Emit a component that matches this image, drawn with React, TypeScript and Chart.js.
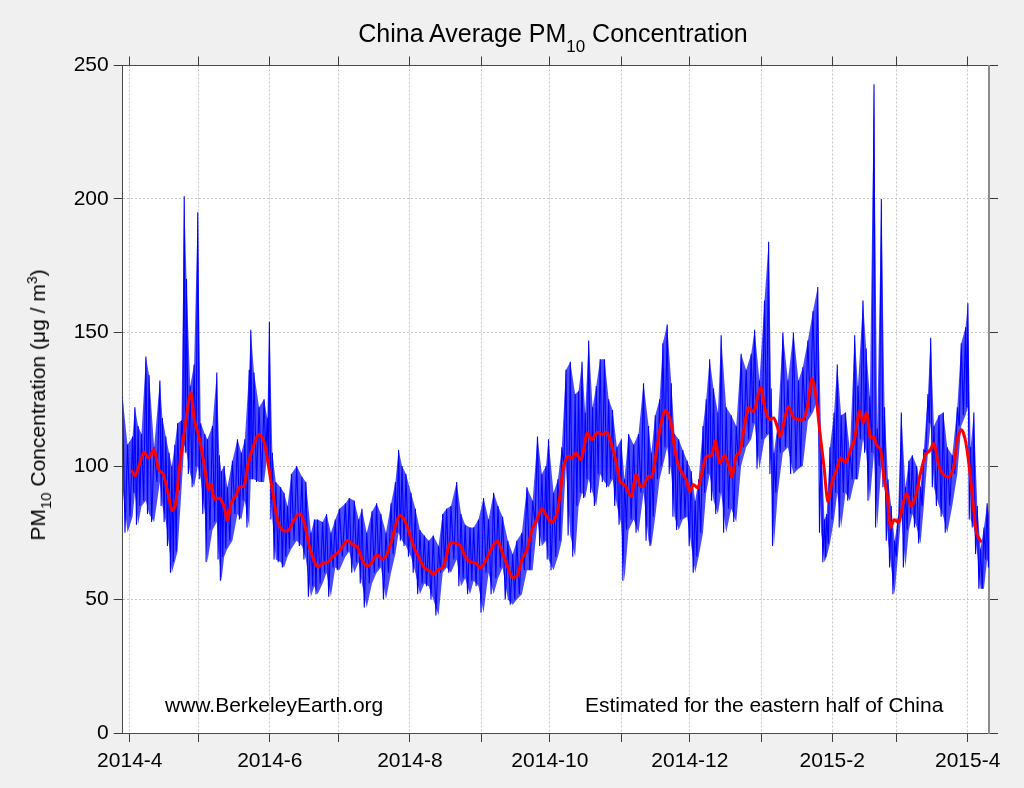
import { useEffect, useRef } from 'react';
import { Chart, registerables } from 'chart.js';

Chart.register(...registerables);

const FONT = '"Liberation Sans", Arial, Helvetica, sans-serif';

// x axis: days since 2014-04-01
const xMin = -3.1;
const xMax = 374.3;
const monthTicks = [0, 30, 61, 91, 122, 153, 183, 214, 244, 275, 306, 334, 365];
const monthLabels = ['2014-4', '', '2014-6', '', '2014-8', '', '2014-10', '', '2014-12', '', '2015-2', '', '2015-4'];
const yTicks = [0, 50, 100, 150, 200, 250];

// smoothed (red) series: [day, value]
const smoothAprJun = [
  [0.9, 98.0], [2.4, 96.4], [3.9, 99.9], [6.2, 105.1], [8.2, 103], [10.5, 106.1], [12.6, 98.6], [14.5, 97],
  [16.6, 89.9], [18.4, 83.4], [19.8, 85.1], [21.7, 99.9], [23.9, 113.6], [26.5, 127.4], [28.2, 116.8],
  [30.1, 111.1], [32.3, 101.1], [34.3, 91.1], [35.5, 93], [36.9, 87.6], [39.1, 88], [41.0, 84.9], [42.5, 79.6],
  [44.2, 86.1], [46.4, 89.3], [47.8, 92.1], [49.7, 92.4], [51.5, 100.5], [53.6, 106.8], [56.1, 111.8],
  [58.4, 109.3], [60.2, 101.1], [62.3, 89.9], [64.5, 79.3], [66.7, 75.9], [69.2, 75.9], [71.5, 79.9],
];
const smoothJunAug = [
  [74.1, 82.1], [76.0, 78.6], [78.2, 69.9], [80.4, 64.3], [81.8, 62.2], [84.0, 63.6], [86.2, 63.9], [88.4, 66.1],
  [90.5, 67.4], [92.7, 69.9], [94.9, 72.2], [97.1, 70.5], [99.0, 69.9], [101.2, 64.9], [102.9, 62.6], [104.6, 63],
  [106.1, 64.9], [107.7, 66.8], [109.9, 65.1], [111.9, 66.8], [114.2, 72.4], [116.0, 78.6], [117.7, 81.4],
  [119.6, 79.9], [121.8, 74.9], [123.9, 69.3], [126.1, 65.5], [128.3, 61.8], [130.5, 60.8], [132.2, 59.3],
  [134.1, 61.1], [136.3, 62], [137.7, 65.5], [139.5, 71.1], [141.8, 71.1], [144.0, 70.2], [145.7, 66.8], [147.9, 64.3],
];
const smoothSepNov = [
  [150.8, 63.6], [152.7, 61.8], [154.9, 64.3], [156.6, 67.4], [158.5, 70.5], [160.4, 71.8], [162.1, 68], [164.3, 63],
  [166.5, 58.4], [168.7, 58.9], [170.8, 64.9], [173.0, 68.6], [175.2, 76.1], [177.3, 79.9], [179.5, 83.9],
  [181.7, 81.1], [183.9, 78.9], [186.1, 82.4], [187.5, 89.9], [189.0, 99.9], [190.9, 103.6], [192.6, 103],
  [194.4, 104.9], [196.3, 102.4], [197.7, 106.1], [199.2, 112.4], [201.3, 109.9], [203.5, 112.6], [205.7, 111.8],
  [207.9, 112.6], [210.0, 107.4], [211.8, 101.8], [213.7, 93.9], [215.6, 93], [217.0, 90.5], [218.5, 88.6],
  [220.5, 96.8], [222.4, 92.4], [223.9, 92.7], [225.8, 96.1],
];
const smoothNovJan = [
  [227.4, 95.9], [229.3, 104.9], [231.2, 114.9], [233.2, 120.9], [235.6, 116.8], [237.3, 106.8], [239.1, 99.9],
  [241.0, 96.8], [242.4, 94.9], [243.9, 90.5], [245.6, 93], [247.5, 91.8], [249.2, 97.4], [251.1, 103.6],
  [253.3, 103.9], [255.2, 109.3], [257.0, 101.1], [259.1, 103.9], [261.0, 99.9], [262.3, 95.9], [264.2, 103.9],
  [265.6, 104.9], [267.5, 113.6], [269.5, 121.8], [271.8, 120.5], [273.6, 126.1], [275.0, 129.3], [276.8, 121.1],
  [278.7, 117.4], [280.5, 118], [282.0, 114.9], [283.4, 111.1], [285.2, 117.4], [286.9, 122.2], [289.3, 118],
  [291.3, 117.4], [293.2, 117.2], [295.1, 121.8], [297.1, 132.6], [298.7, 127.4], [300.5, 113.6],
];
const smoothFebApr = [
  [302.4, 99.9], [304.1, 86.8], [306.0, 94.3], [307.9, 98.6], [309.7, 103], [311.8, 101.4], [314.0, 106.1],
  [315.7, 109.9], [317.8, 120.5], [319.5, 116.1], [321.0, 119.9], [322.7, 110.5], [324.2, 110.9], [325.3, 108],
  [327.1, 106.1], [328.5, 95.5], [330.0, 88.9], [331.4, 77.1], [333.1, 79.9], [335.0, 78.9], [336.9, 86.1],
  [338.4, 89.6], [340.4, 85.1], [342.3, 88.6], [344.5, 97.4], [346.7, 104.3], [348.6, 105.9], [350.3, 108.4],
  [352.5, 99.9], [354.4, 96.8], [356.8, 95.9], [359.0, 99.9], [360.5, 109.9], [362.3, 113.6], [364.1, 109.3],
  [366.0, 97.4], [367.5, 84.9], [368.9, 74.9], [370.7, 71.8],
];

// hourly (blue) series, read as local peaks and troughs: [day, peak, trough]
const hourlyAprJun = [
  [-3.2, 126, 92], [-1.0, 108, 75], [1.2, 111, 81], [2.2, 122, 90], [3.6, 115, 78], [5.1, 112, 85], [7.0, 141, 87],
  [8.4, 134, 82], [10.6, 107, 79], [13.1, 132, 94], [14.2, 118, 85], [15.7, 111, 79], [17.1, 105, 70], [18.3, 100, 60],
  [19.6, 108, 64], [20.8, 116, 68], [22.5, 117, 91], [23.7, 201, 108], [24.7, 170, 105], [26.3, 130, 97],
  [28.0, 138, 92], [29.6, 195, 100], [30.9, 116, 95], [32.7, 112, 82], [33.8, 110, 64], [36.0, 115, 76],
  [37.9, 135, 79], [39.0, 104, 65], [39.9, 98, 57], [41.1, 100, 66], [42.5, 92, 69], [44.7, 102, 72], [46.9, 110, 82],
  [48.6, 105, 80], [50.1, 110, 87], [52.0, 136, 77], [52.7, 151, 95], [54.1, 135, 95], [56.3, 122, 94],
  [58.5, 125, 94], [59.9, 118, 104], [60.8, 154, 100], [62.1, 105, 80], [63.6, 94, 65], [65.7, 92, 64],
  [67.2, 90, 62], [68.7, 85, 66], [70.4, 97, 69], [72.7, 100, 72],
];
const hourlyJunAug = [
  [75.0, 96, 70], [76.7, 94, 65], [78.9, 75, 51], [80.4, 80, 55], [81.8, 80, 52], [84.0, 79, 56], [85.7, 82, 60],
  [87.6, 75, 51], [89.5, 80, 62], [91.3, 84, 61], [93.9, 86, 66], [95.6, 88, 68], [97.8, 87, 60], [99.7, 80, 64],
  [101.1, 84, 56], [103.2, 75, 47], [105.5, 83, 56], [107.5, 86, 60], [109.4, 82, 62], [111.6, 75, 50],
  [113.8, 86, 60], [115.7, 94, 67], [117.1, 106, 75], [118.6, 100, 72], [120.3, 97, 70], [122.5, 90, 66],
  [124.4, 84, 60], [126.4, 76, 52], [128.3, 74, 56], [130.2, 72, 55], [132.2, 74, 50], [134.5, 70, 44],
  [136.3, 82, 60], [138.0, 84, 62], [139.9, 85, 60], [142.4, 94, 65], [144.3, 82, 55], [146.1, 78, 58], [148.2, 77, 52],
];
const hourlySepNov = [
  [149.8, 77, 57], [151.9, 80, 55], [154.1, 88, 45], [156.3, 80, 60], [158.5, 90, 52], [160.4, 85, 58],
  [162.4, 81, 62], [164.7, 72, 50], [166.8, 67, 48], [168.6, 72, 50], [170.8, 75, 52], [173.0, 92, 61],
  [175.5, 87, 61], [177.6, 111, 79], [179.5, 97, 70], [181.3, 100, 72], [182.4, 110, 65], [184.6, 90, 61],
  [186.5, 95, 66], [188.2, 107, 72], [190.0, 136, 100], [191.9, 139, 74], [194.0, 127, 66], [195.5, 128, 85],
  [197.0, 139, 90], [198.4, 120, 88], [199.9, 147, 95], [201.6, 122, 90], [203.2, 130, 85], [204.9, 140, 97],
  [206.8, 140, 94], [208.6, 125, 92], [210.3, 121, 95], [212.2, 107, 85], [214.1, 110, 78], [215.5, 95, 57],
  [217.3, 112, 76], [219.5, 108, 80], [221.6, 112, 75], [223.8, 131, 90], [226.0, 115, 72],
];
const hourlyNovJan = [
  [227.2, 105, 70], [228.9, 119, 81], [230.8, 125, 95], [232.2, 146, 100], [234.1, 153, 107], [235.9, 131, 97],
  [237.3, 112, 81], [239.1, 110, 76], [240.9, 106, 80], [242.8, 102, 81], [244.6, 98, 70], [246.3, 87, 60],
  [247.8, 95, 66], [249.7, 115, 75], [251.1, 125, 90], [252.6, 140, 97], [254.3, 129, 87], [256.2, 120, 82],
  [257.6, 149, 90], [259.8, 122, 75], [262.0, 119, 84], [264.2, 115, 79], [266.3, 142, 100], [268.5, 136, 107],
  [270.7, 142, 110], [272.2, 151, 116], [274.3, 132, 99], [276.5, 162, 110], [278.3, 184, 112], [279.4, 129, 97],
  [280.6, 105, 70], [282.3, 116, 90], [284.5, 150, 105], [286.7, 132, 107], [289.1, 150, 97], [291.3, 132, 99],
  [293.2, 137, 100], [295.4, 147, 117], [297.6, 158, 120], [299.7, 167, 125], [301.2, 110, 75], [302.6, 80, 64],
];
const hourlyFebApr = [
  [303.6, 82, 66], [305.0, 107, 71], [306.8, 120, 80], [308.2, 138, 90], [309.9, 119, 77], [311.8, 120, 90],
  [313.7, 106, 87], [315.8, 149, 95], [317.2, 130, 95], [319.4, 162, 110], [320.8, 144, 105], [322.4, 126, 87],
  [324.2, 243, 105], [325.6, 114, 77], [327.4, 200, 100], [328.8, 122, 92], [330.3, 95, 72], [331.7, 85, 62],
  [333.2, 72, 52], [334.6, 80, 66], [336.1, 120, 82], [337.9, 92, 62], [339.4, 102, 76], [340.9, 104, 82],
  [342.8, 100, 77], [344.5, 92, 71], [345.9, 106, 85], [347.7, 127, 105], [348.9, 148, 116], [350.3, 115, 92],
  [352.5, 119, 85], [354.4, 120, 81], [356.1, 107, 75], [358.3, 104, 85], [360.5, 122, 97], [362.2, 146, 115],
  [364.1, 152, 119], [365.1, 161, 122], [366.3, 107, 80], [367.7, 120, 77], [369.2, 85, 67], [370.6, 69, 54],
  [372.1, 77, 54], [373.5, 86, 65], [374.6, 80, 62],
];

const hourlyRows = () => [...hourlyAprJun, ...hourlyJunAug, ...hourlySepNov, ...hourlyNovJan, ...hourlyFebApr];

function buildSmooth() {
  return [...smoothAprJun, ...smoothJunAug, ...smoothSepNov, ...smoothNovJan, ...smoothFebApr].map(([x, y]) => ({ x, y }));
}

function buildHourly() {
  const rows = hourlyRows();
  const pts: { x: number; y: number }[] = [];
  rows.forEach(([d, hi, lo], i) => {
    const prev = i > 0 ? rows[i - 1][0] : d - 1.6;
    pts.push({ x: (prev + d) / 2, y: lo });
    pts.push({ x: d, y: hi });
  });
  return pts;
}

const plotBg = {
  id: 'plotBg',
  beforeDraw(chart: any) {
    const { ctx, chartArea } = chart;
    if (!chartArea) return;
    ctx.save();
    ctx.fillStyle = '#ffffff';
    ctx.fillRect(chartArea.left, chartArea.top, chartArea.right - chartArea.left, chartArea.bottom - chartArea.top);
    ctx.restore();
  },
};

export default function App() {
  const ref = useRef<HTMLCanvasElement>(null);

  useEffect(() => {
    if (!ref.current) return;
    const gridCommon = {
      color: '#c4c4c4',
      lineWidth: 1,
      tickLength: 9,
      tickColor: '#3a3a3a',
      tickWidth: 1,
      tickBorderDash: [],
    };
    const rows = hourlyRows();
    const chart = new Chart(ref.current, {
      type: 'line',
      data: {
        datasets: [
          {
            label: 'smoothed',
            data: buildSmooth(),
            borderColor: '#ff0000',
            borderWidth: 3,
            pointRadius: 0,
            tension: 0.3,
            borderJoinStyle: 'round',
            borderCapStyle: 'round',
            fill: false,
          },
          {
            label: 'hourly',
            data: buildHourly(),
            borderColor: '#0000ff',
            borderWidth: 1.1,
            pointRadius: 0,
            tension: 0,
            fill: false,
          },
          {
            label: 'hourly peaks',
            data: rows.map(([d, hi]) => ({ x: d, y: hi })),
            borderWidth: 0,
            borderColor: 'rgba(0,0,0,0)',
            pointRadius: 0,
            tension: 0,
            fill: false,
          },
          {
            label: 'hourly troughs',
            data: rows.map(([d, , lo]) => ({ x: d, y: lo })),
            borderWidth: 0,
            borderColor: 'rgba(0,0,0,0)',
            backgroundColor: 'rgba(0,0,255,0.7)',
            pointRadius: 0,
            tension: 0,
            fill: '-1',
          },
        ],
      },
      plugins: [plotBg],
      options: {
        responsive: false,
        animation: false,
        devicePixelRatio: 1,
        events: [],
        layout: { padding: 0 },
        plugins: { legend: { display: false }, tooltip: { enabled: false }, title: { display: false } },
        scales: {
          x: {
            type: 'linear',
            position: 'bottom',
            min: xMin,
            max: xMax,
            afterBuildTicks: (s: any) => { s.ticks = monthTicks.map((v) => ({ value: v })); },
            afterFit: (s: any) => { s.height = 55; },
            ticks: {
              autoSkip: false,
              maxRotation: 0,
              padding: 7,
              color: '#000',
              font: { family: FONT, size: 21 },
              callback: (v: any) => { const i = monthTicks.indexOf(Number(v)); return i >= 0 ? monthLabels[i] : ''; },
            },
            grid: { ...gridCommon, drawOnChartArea: true },
            border: { display: true, color: '#4a4a4a', width: 1, dash: [2, 2] },
          },
          xTop: {
            type: 'linear',
            position: 'top',
            min: xMin,
            max: xMax,
            afterBuildTicks: (s: any) => { s.ticks = monthTicks.map((v) => ({ value: v })); },
            afterFit: (s: any) => { s.height = 65.5; },
            ticks: { display: false },
            grid: { ...gridCommon, drawOnChartArea: false },
            border: { display: true, color: '#4a4a4a', width: 1 },
          },
          y: {
            type: 'linear',
            position: 'left',
            min: 0,
            max: 250,
            afterBuildTicks: (s: any) => { s.ticks = yTicks.map((v) => ({ value: v })); },
            afterFit: (s: any) => { s.width = 122.7; },
            ticks: { padding: 5, color: '#000', font: { family: FONT, size: 21 } },
            grid: { ...gridCommon, drawOnChartArea: true },
            border: { display: true, color: '#4a4a4a', width: 1, dash: [2, 2] },
          },
          yRight: {
            type: 'linear',
            position: 'right',
            min: 0,
            max: 250,
            afterBuildTicks: (s: any) => { s.ticks = yTicks.map((v) => ({ value: v })); },
            afterFit: (s: any) => { s.width = 35; },
            ticks: { display: false },
            grid: { ...gridCommon, drawOnChartArea: false },
            border: { display: true, color: '#8c8c8c', width: 2 },
          },
        },
      } as any,
    });
    return () => chart.destroy();
  }, []);

  const textBase: React.CSSProperties = {
    position: 'absolute',
    whiteSpace: 'nowrap',
    fontFamily: FONT,
    color: '#000',
  };

  return (
    <div style={{ position: 'fixed', left: 0, top: 0, width: 1024, height: 788, background: '#f0f0f0', overflow: 'hidden' }}>
      <canvas ref={ref} width={1024} height={788} style={{ position: 'absolute', left: 0, top: 0, width: 1024, height: 788 }} />
      <div style={{ ...textBase, left: 553, top: 20.5, fontSize: 25, lineHeight: '25px', transform: 'translateX(-50%)' }}>
        China Average PM<span style={{ fontSize: 17, position: 'relative', top: 10 }}>10</span> Concentration
      </div>
      <div style={{ ...textBase, left: 39, top: 405, fontSize: 21, lineHeight: '21px', transform: 'translate(-50%, -50%) rotate(-90deg)' }}>
        PM<span style={{ fontSize: 15, position: 'relative', top: 6 }}>10</span> Concentration (μg / m<span style={{ fontSize: 14, position: 'relative', top: -8 }}>3</span>)
      </div>
      <div style={{ ...textBase, left: 165, top: 694, fontSize: 21, lineHeight: '21px' }}>www.BerkeleyEarth.org</div>
      <div style={{ ...textBase, left: 585, top: 694, fontSize: 21, lineHeight: '21px' }}>Estimated for the eastern half of China</div>
    </div>
  );
}
